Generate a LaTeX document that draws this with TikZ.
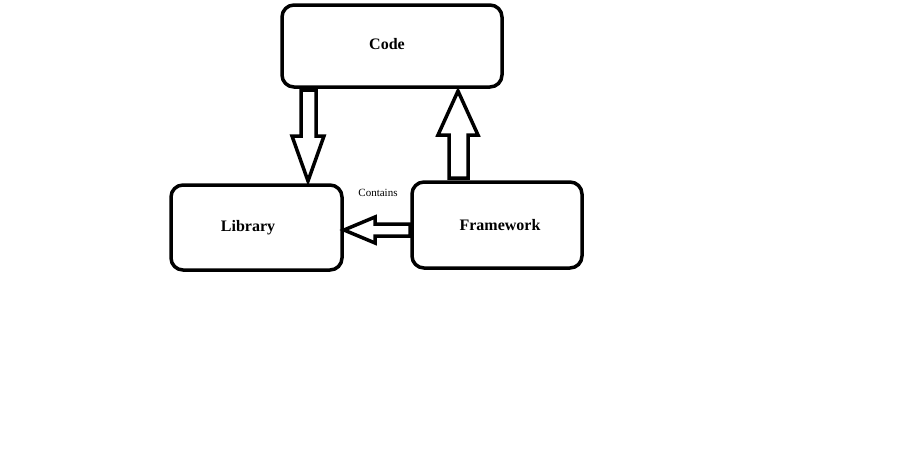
\documentclass[tikz,border=0pt]{standalone}
\usepackage{fontspec}
\setmainfont{Liberation Serif}
\begin{document}
\begin{tikzpicture}[x=1pt,y=-1pt,
  box/.style={draw,line width=3.5pt,rounded corners=12pt},
  blk/.style={draw,line width=3.5pt,line join=miter,fill=white},
  lbl/.style={font=\bfseries\fontsize{16}{18}\selectfont}]
\useasboundingbox (0,0) rectangle (904,474);
\draw[box] (282,5) rectangle (502,87);
\node[lbl] (code) at (387,44) {Code};
\draw[box] (171,185) rectangle (342,270);
\node[lbl] (lib) at (248,228) {Library};
\draw[box] (412,182) rectangle (582,268);
\node[lbl] (fw) at (500,225) {Framework};
% down arrow
\draw[blk] (301,90) -- (316,90) -- (316,136) -- (324,136) -- (308,181) -- (292,136) -- (301,136) -- cycle;
% up arrow
\draw[blk] (449,178) -- (468,178) -- (468,135) -- (478,135) -- (458,91) -- (438,135) -- (449,135) -- cycle;
% left arrow
\draw[blk] (410,224) -- (375,224) -- (375,217) -- (344,230) -- (375,243) -- (375,236) -- (410,236) -- cycle;
\node[font=\fontsize{11}{13}\selectfont] (c) at (378,193) {Contains};
\end{tikzpicture}
\end{document}
